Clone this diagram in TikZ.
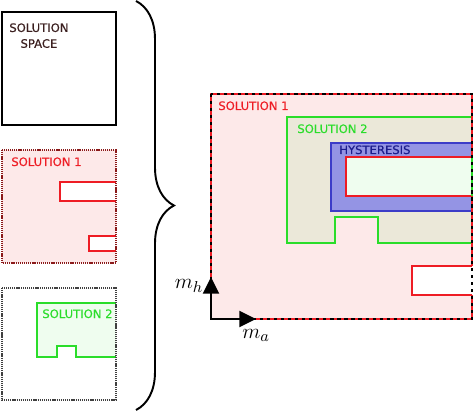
\documentclass[tikz,border=0pt]{standalone}
\usepackage{fontspec}
\newfontfamily\labelfont[FakeBold=0.5]{DejaVu Sans}
\usetikzlibrary{arrows.meta}
\usetikzlibrary{decorations.pathreplacing}
\definecolor{solred}{HTML}{EE1C24}
\definecolor{solpink}{HTML}{FDE9E9}
\definecolor{solgreen}{HTML}{2ADD2A}
\definecolor{lightgreen}{HTML}{EFFDEF}
\definecolor{beige}{HTML}{EBE8D9}
\definecolor{hystfill}{HTML}{9494E4}
\definecolor{hystline}{HTML}{3C3CC8}
\definecolor{hysttext}{HTML}{1C1C8C}
\definecolor{darkred}{HTML}{8B1A1A}
\definecolor{spacetext}{HTML}{3B1F1F}
\tikzset{label text/.style={font=\labelfont\fontsize{6.6}{9}\selectfont, inner sep=0pt},
        thin region/.style={line width=0.9pt},
        thick region/.style={line width=1.6pt},
        dotted border/.style={line width=1pt, dash pattern=on 0.7pt off 0.5pt},
        dashed border/.style={line width=1.4pt, dash pattern=on 1.8pt off 2.2pt},
        axis arrow/.style={line width=1.5pt, -{Triangle[length=9.5pt,width=9pt]}},
        axis label/.style={font=\fontsize{12.5}{14}\selectfont, inner sep=0pt},
}
\begin{document}
\begin{tikzpicture}[x=0.02cm, y=-0.02cm]
      \useasboundingbox (0,0) rectangle (474,412);
      % SOLUTION SPACE
      \draw[thin region, fill=white] (2,12) rectangle (116,125);
      \node[label text, text=spacetext, align=center, anchor=north west] (spacelabel) at (9,23) {SOLUTION\\SPACE};

      % SOLUTION 1 (small)
      \fill[solpink] (2,150) rectangle (116,263);
      \fill[white] (60,182) rectangle (116,201);
      \fill[white] (89,236) rectangle (116,251);
      \draw[thin region, solred] (116,182) -- (60,182) -- (60,201) -- (116,201);
      \draw[thin region, solred] (116,236) -- (89,236) -- (89,251) -- (116,251);
      \draw[dotted border, darkred] (2,150) rectangle (116,263);
      \node[label text, text=solred, anchor=base west] (sol1small) at (11,166) {SOLUTION 1};

      % SOLUTION 2 (small)
      \fill[white] (2,288) rectangle (116,400);
      \draw[thin region, solgreen, fill=lightgreen] (116,303) -- (37,303) -- (37,357) -- (57,357) -- (57,346) -- (76,346) -- (76,357) -- (116,357);
      \draw[dotted border, black!75] (2,288) rectangle (116,400);
      \node[label text, text=solgreen, anchor=base west] (sol2small) at (42,318) {SOLUTION 2};

      % BRACE
      \draw[line width=1.1pt, decorate, decoration={brace, amplitude=0.76cm}] (136,1) -- (136,410);

      % BIG SOLUTION 1
      \fill[solpink] (211,94) rectangle (472,319);
      % solution 2 region
      \draw[thick region, solgreen, fill=beige] (472,117) -- (287,117) -- (287,243) -- (335,243) -- (335,217) -- (378,217) -- (378,243) -- (472,243);
      % hysteresis band
      \draw[thin region, hystline, fill=hystfill] (472,143) -- (331,143) -- (331,211) -- (472,211);
      \draw[thick region, solred, fill=lightgreen] (472,157) -- (346,157) -- (346,196) -- (472,196);
      % lower notch
      \draw[thick region, solred, fill=white] (472,266) -- (412,266) -- (412,295) -- (472,295);
      % border
      \draw[thick region, solred] (472,157) -- (472,94) -- (211,94) -- (211,319) -- (472,319) -- (472,295);
      \draw[thick region, solred] (472,196) -- (472,266);
      \draw[thick region, solgreen] (472,157) -- (472,196);
      \draw[dashed border, black] (211,94) rectangle (472,319);

      \node[label text, text=solred, anchor=base west] (sol1big) at (218,110) {SOLUTION 1};
      \node[label text, text=solgreen, anchor=base west] (sol2big) at (297,133) {SOLUTION 2};
      \node[label text, text=hysttext, anchor=base west] (hystlabel) at (339,154) {HYSTERESIS};

      % AXES
      \coordinate (origin) at (211,319);
      \coordinate (mhend) at (211,277);
      \coordinate (maend) at (256,319);
      \draw[axis arrow] (origin) -- (mhend);
      \draw[axis arrow] (origin) -- (maend);
      \node[axis label, anchor=base east] (mhlabel) at (203.5,289) {$m_h$};
      \node[axis label, anchor=base west] (malabel) at (242,338) {$m_a$};
\end{tikzpicture}
\end{document}
